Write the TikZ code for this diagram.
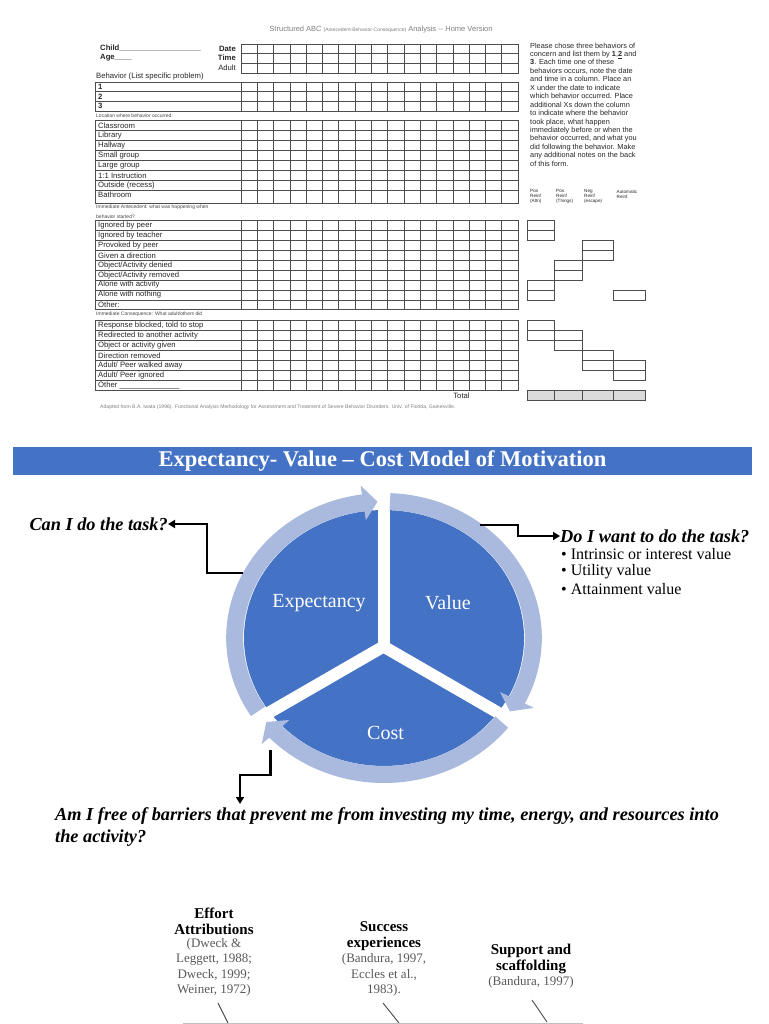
\documentclass[tikz,border=0pt]{standalone}
\usepackage{fontspec}
\setmainfont{Liberation Serif}
\newfontfamily\arialf{Liberation Sans}
\usetikzlibrary{arrows.meta}
\definecolor{mblue}{HTML}{4472C4}
\definecolor{lblue}{HTML}{AAB9DE}
\definecolor{tline}{HTML}{4D4D4D}
\definecolor{ttext}{HTML}{262626}
\definecolor{citec}{HTML}{595959}
\newcommand\abcgrid[3]{%
  \draw[tl] (95,#1) rectangle (518.1,#2);
  \foreach \yy in {#3} {\draw[tl] (95,\yy) -- (518.1,\yy);}
  \foreach \kk in {0,...,16} {\draw[tl] ({241+16.3*\kk},#1) -- ({241+16.3*\kk},#2);}
}
\tikzset{
  tl/.style={draw=tline, line width=0.8pt},
  tt/.style={font=\arialf\fontsize{7.7}{9}\selectfont, text=ttext, inner sep=0pt, anchor=west},
  ttb/.style={tt, font=\arialf\bfseries\fontsize{7.7}{9}\selectfont},
  capt/.style={font=\arialf\fontsize{5}{6}\selectfont, text=ttext!85, inner sep=0pt, anchor=west},
  hdr/.style={font=\arialf\fontsize{4.6}{5}\selectfont, text=ttext, inner sep=0pt, anchor=north west, align=left},
  qst/.style={font=\bfseries\itshape\fontsize{18.3}{20}\selectfont, inner sep=0pt},
  bul/.style={font=\fontsize{16}{18}\selectfont, inner sep=0pt, anchor=west},
  seg/.style={font=\fontsize{20}{22}\selectfont, text=white, inner sep=0pt},
  conn/.style={line width=2.6pt, -{Triangle[length=7pt,width=8pt]}},
  headb/.style={font=\bfseries\fontsize{15}{16}\selectfont, align=center, inner sep=0pt},
  citeb/.style={font=\fontsize{13}{15.4}\selectfont, text=citec, align=center, inner sep=0pt},
}
\begin{document}
\begin{tikzpicture}[x=1pt,y=-1pt]
\fill[white] (0,0) rectangle (768,1024);
\useasboundingbox (0,0) rectangle (768,1024);

% ---------- ABC form ----------
\node[font=\arialf\fontsize{7.5}{9}\selectfont, text=black!50, inner sep=0pt] (ftitle) at (381,30)
  {Structured ABC {\fontsize{5}{6}\selectfont(Antecedent-Behavior-Consequence)} Analysis -- Home Version};
\node[ttb] (child) at (100,48) {Child\_\_\_\_\_\_\_\_\_\_\_\_\_\_\_\_\_\_\_};
\node[ttb] (age) at (100,57.5) {Age\_\_\_\_};
\node[ttb, anchor=east] (date) at (236,48.5) {Date};
\node[ttb, anchor=east] (time) at (236,58.2) {Time};
\node[tt, anchor=east] (adult) at (236,68) {Adult};
\draw[tl] (241,44) rectangle (518.1,73);
\draw[tl] (241,53.7) -- (518.1,53.7);
\draw[tl] (241,63.3) -- (518.1,63.3);
\foreach \kk in {1,...,16} {\draw[tl] ({241+16.3*\kk},44) -- ({241+16.3*\kk},73);}

\node[tt] (behav) at (96,77) {Behavior (List specific problem)};
\abcgrid{82}{111}{91.7,101.3}
\node[ttb] (b1) at (98,87) {1};
\node[ttb] (b2) at (98,96.5) {2};
\node[ttb] (b3) at (98,106.2) {3};

\node[capt] (loccap) at (96,115.5) {Location where behavior occurred:};
\abcgrid{120.7}{203}{130.7,140.7,150.5,160.3,170.3,180.3,190.5}
\foreach \t [count=\i from 0] in {Classroom,Library,Hallway,Small group,Large group,1:1 Instruction,Outside (recess),Bathroom}
  {\node[tt] (loc\i) at (98,{125.8+9.9*\i}) {\t};}

\node[capt] (antcap1) at (96,207.5) {Immediate Antecedent:  what was happening when};
\node[capt] (antcap2) at (96,216.5) {behavior started?};
\abcgrid{220.7}{309.8}{230.6,240.5,250.4,260.3,270.2,280.1,290,299.9}
\foreach \t [count=\i from 0] in {Ignored by peer,Ignored by teacher,Provoked by peer,Given a direction,Object/Activity denied,Object/Activity removed,Alone with activity,Alone with nothing,Other:}
  {\node[tt] (ant\i) at (98,{225.6+9.9*\i}) {\t};}

\node[capt] (concap) at (96,314.5) {Immediate Consequence:  What adult/others did};
\abcgrid{320.7}{390.7}{330.7,340.7,350.7,360.7,370.7,380.7}
\foreach \t [count=\i from 0] in {{Response blocked, told to stop},Redirected to another activity,Object or activity given,Direction removed,Adult/ Peer walked away,Adult/ Peer ignored,Other \_\_\_\_\_\_\_\_\_\_\_\_\_\_}
  {\node[tt] (con\i) at (98,{325.7+10*\i}) {\t};}

\node[tt, anchor=center] (total) at (461.5,396) {Total};
\node[font=\arialf\fontsize{5.1}{6}\selectfont, text=black!50, inner sep=0pt, anchor=west] (adapted) at (100,407.5)
  {Adapted from B.A. Iwata (1996). Functional Analysis Methodology for Assessment and Treatment of Severe Behavior Disorders.  Univ. of Florida, Gainesville.};

\node[font=\arialf\fontsize{7.35}{8.45}\selectfont, text=ttext, anchor=north west, align=left, inner sep=0pt] (instr) at (530,42.5)
  {Please chose three behaviors of\\concern and list them by \textbf{1},\underline{\textbf{2}} and\\\textbf{3}.  Each time one of these\\behaviors occurs, note the date\\and time in a column.  Place an\\X under the date to indicate\\which behavior occurred.  Place\\additional Xs down the column\\to indicate where the behavior\\took place, what happen\\immediately before or when the\\behavior occurred, and what you\\did following the behavior.  Make\\any additional notes on the back\\of this form.};
\node[hdr] (h1) at (530,189.5) {Pos\\Reinf\\(Attn)};
\node[hdr] (h2) at (556,189.5) {Pos\\Reinf\\(Things)};
\node[hdr] (h3) at (584,189.5) {Neg\\Reinf\\(escape)};
\node[hdr] (h4) at (616.5,189.5) {Automatic\\Reinf.};

\draw[tl] (527,220.7) rectangle (554,240.5); \draw[tl] (527,230.6) -- (554,230.6);
\draw[tl] (582,240.5) rectangle (613,260.3); \draw[tl] (582,250.4) -- (613,250.4);
\draw[tl] (554,260.3) rectangle (582,280.1); \draw[tl] (554,270.2) -- (582,270.2);
\draw[tl] (527,280.1) rectangle (554,299.9); \draw[tl] (527,290) -- (554,290);
\draw[tl] (613,290) rectangle (645,299.9);
\draw[tl] (527,320.7) rectangle (554,340.7); \draw[tl] (527,330.7) -- (554,330.7);
\draw[tl] (554,330.7) rectangle (582,350.7); \draw[tl] (554,340.7) -- (582,340.7);
\draw[tl] (582,350.7) rectangle (613,370.7); \draw[tl] (582,360.7) -- (613,360.7);
\draw[tl] (613,360.7) rectangle (645,380.7); \draw[tl] (613,370.7) -- (645,370.7);
\draw[tl, fill=black!14] (527,390.7) rectangle (645,400.7);
\foreach \xx in {554,582,613} {\draw[tl] (\xx,390.7) -- (\xx,400.7);}

% ---------- Expectancy-Value-Cost ----------
\fill[mblue] (13,447) rectangle (752,475);
\node[font=\bfseries\fontsize{22.5}{24}\selectfont, text=white, inner sep=0pt] (banner) at (382.5,461.5)
  {Expectancy- Value -- Cost Model of Motivation};

\begin{scope}[shift={(384,638)}, x=1.094pt, y=1pt]
  \fill[mblue] plot[domain=0:360, samples=144] (\x:128) -- cycle;
\end{scope}
\draw[white, line width=12pt] (383.5,488) -- (383.5,646.5);
\draw[white, line width=12pt, line join=miter] (236.3,731.5) -- (383.5,646.5) -- (530.7,731.5);
\begin{scope}[shift={(384,638)}, x=1.094pt, y=1pt]
  \draw[lblue, line width=17pt] plot[domain=97.5:212.5, samples=60] (\x:136.5);
  \fill[lblue] (98:154) -- (92.5:136.5) -- (98:119) -- cycle;
  \draw[lblue, line width=17pt] plot[domain=-27.5:87.7, samples=60] (\x:136.5);
  \fill[lblue] (-27:154) -- (-32.5:136.5) -- (-27:119) -- cycle;
  \draw[lblue, line width=17pt] plot[domain=-137:-38, samples=60] (\x:136.5);
  \fill[lblue] (-136.5:154) -- (-142:136.5) -- (-136.5:119) -- cycle;
\end{scope}

\node[seg] (expn) at (319,603) {Expectancy};
\node[seg] (valn) at (448,603) {Value};
\node[seg] (costn) at (385.5,733) {Cost};

\node[qst, anchor=east] (can) at (168,524) {Can I do the task?};
\node[qst, anchor=west] (want) at (560,536) {Do I want to do the task?};
\node[bul] (bu1) at (561,554.5) {\textbullet\ Intrinsic or interest value};
\node[bul] (bu2) at (561,572) {\textbullet\ Utility value};
\node[bul] (bu3) at (561,589.5) {\textbullet\ Attainment value};
\node[qst, anchor=west] (free1) at (55,816) {Am I free of barriers that prevent me from investing my time, energy, and resources into};
\node[qst, anchor=west] (free2) at (55,838) {the activity?};

\coordinate (lp) at (243,573);
\coordinate (rp) at (480,525);
\coordinate (bp) at (270.7,750);
\coordinate (bt) at (240,804);
\draw[conn] (lp) -- (207,573) |- (can.east);
\draw[conn] (rp) -- (518,525) |- (want.west);
\draw[conn] (bp) -- (270.7,775) -| (bt);

% ---------- bottom strip ----------
\node[headb] (effh) at (214,921) {Effort\\Attributions};
\node[citeb] (effc) at (214,967.5) {(Dweck \&\\Leggett, 1988;\\Dweck, 1999;\\Weiner, 1972)};
\node[headb] (such) at (384,936.5) {Success\\experiences};
\node[citeb] (succ) at (384,975) {(Bandura, 1997,\\Eccles et al.,\\1983).};
\node[headb] (suph) at (531,959) {Support and\\scaffolding};
\node[citeb] (supc) at (531,982.5) {(Bandura, 1997)};
\coordinate (l1a) at (218,1003); \coordinate (l1b) at (228,1023);
\coordinate (l2a) at (383,1003); \coordinate (l2b) at (399,1023);
\coordinate (l3a) at (532,1000); \coordinate (l3b) at (547,1022);
\coordinate (hl1) at (183,1023.5); \coordinate (hl2) at (583,1023.5);
\draw[black!70, line width=0.9pt] (l1a) -- (l1b);
\draw[black!70, line width=0.9pt] (l2a) -- (l2b);
\draw[black!70, line width=0.9pt] (l3a) -- (l3b);
\draw[black!25, line width=1.5pt] (hl1) -- (hl2);
\end{tikzpicture}
\end{document}
